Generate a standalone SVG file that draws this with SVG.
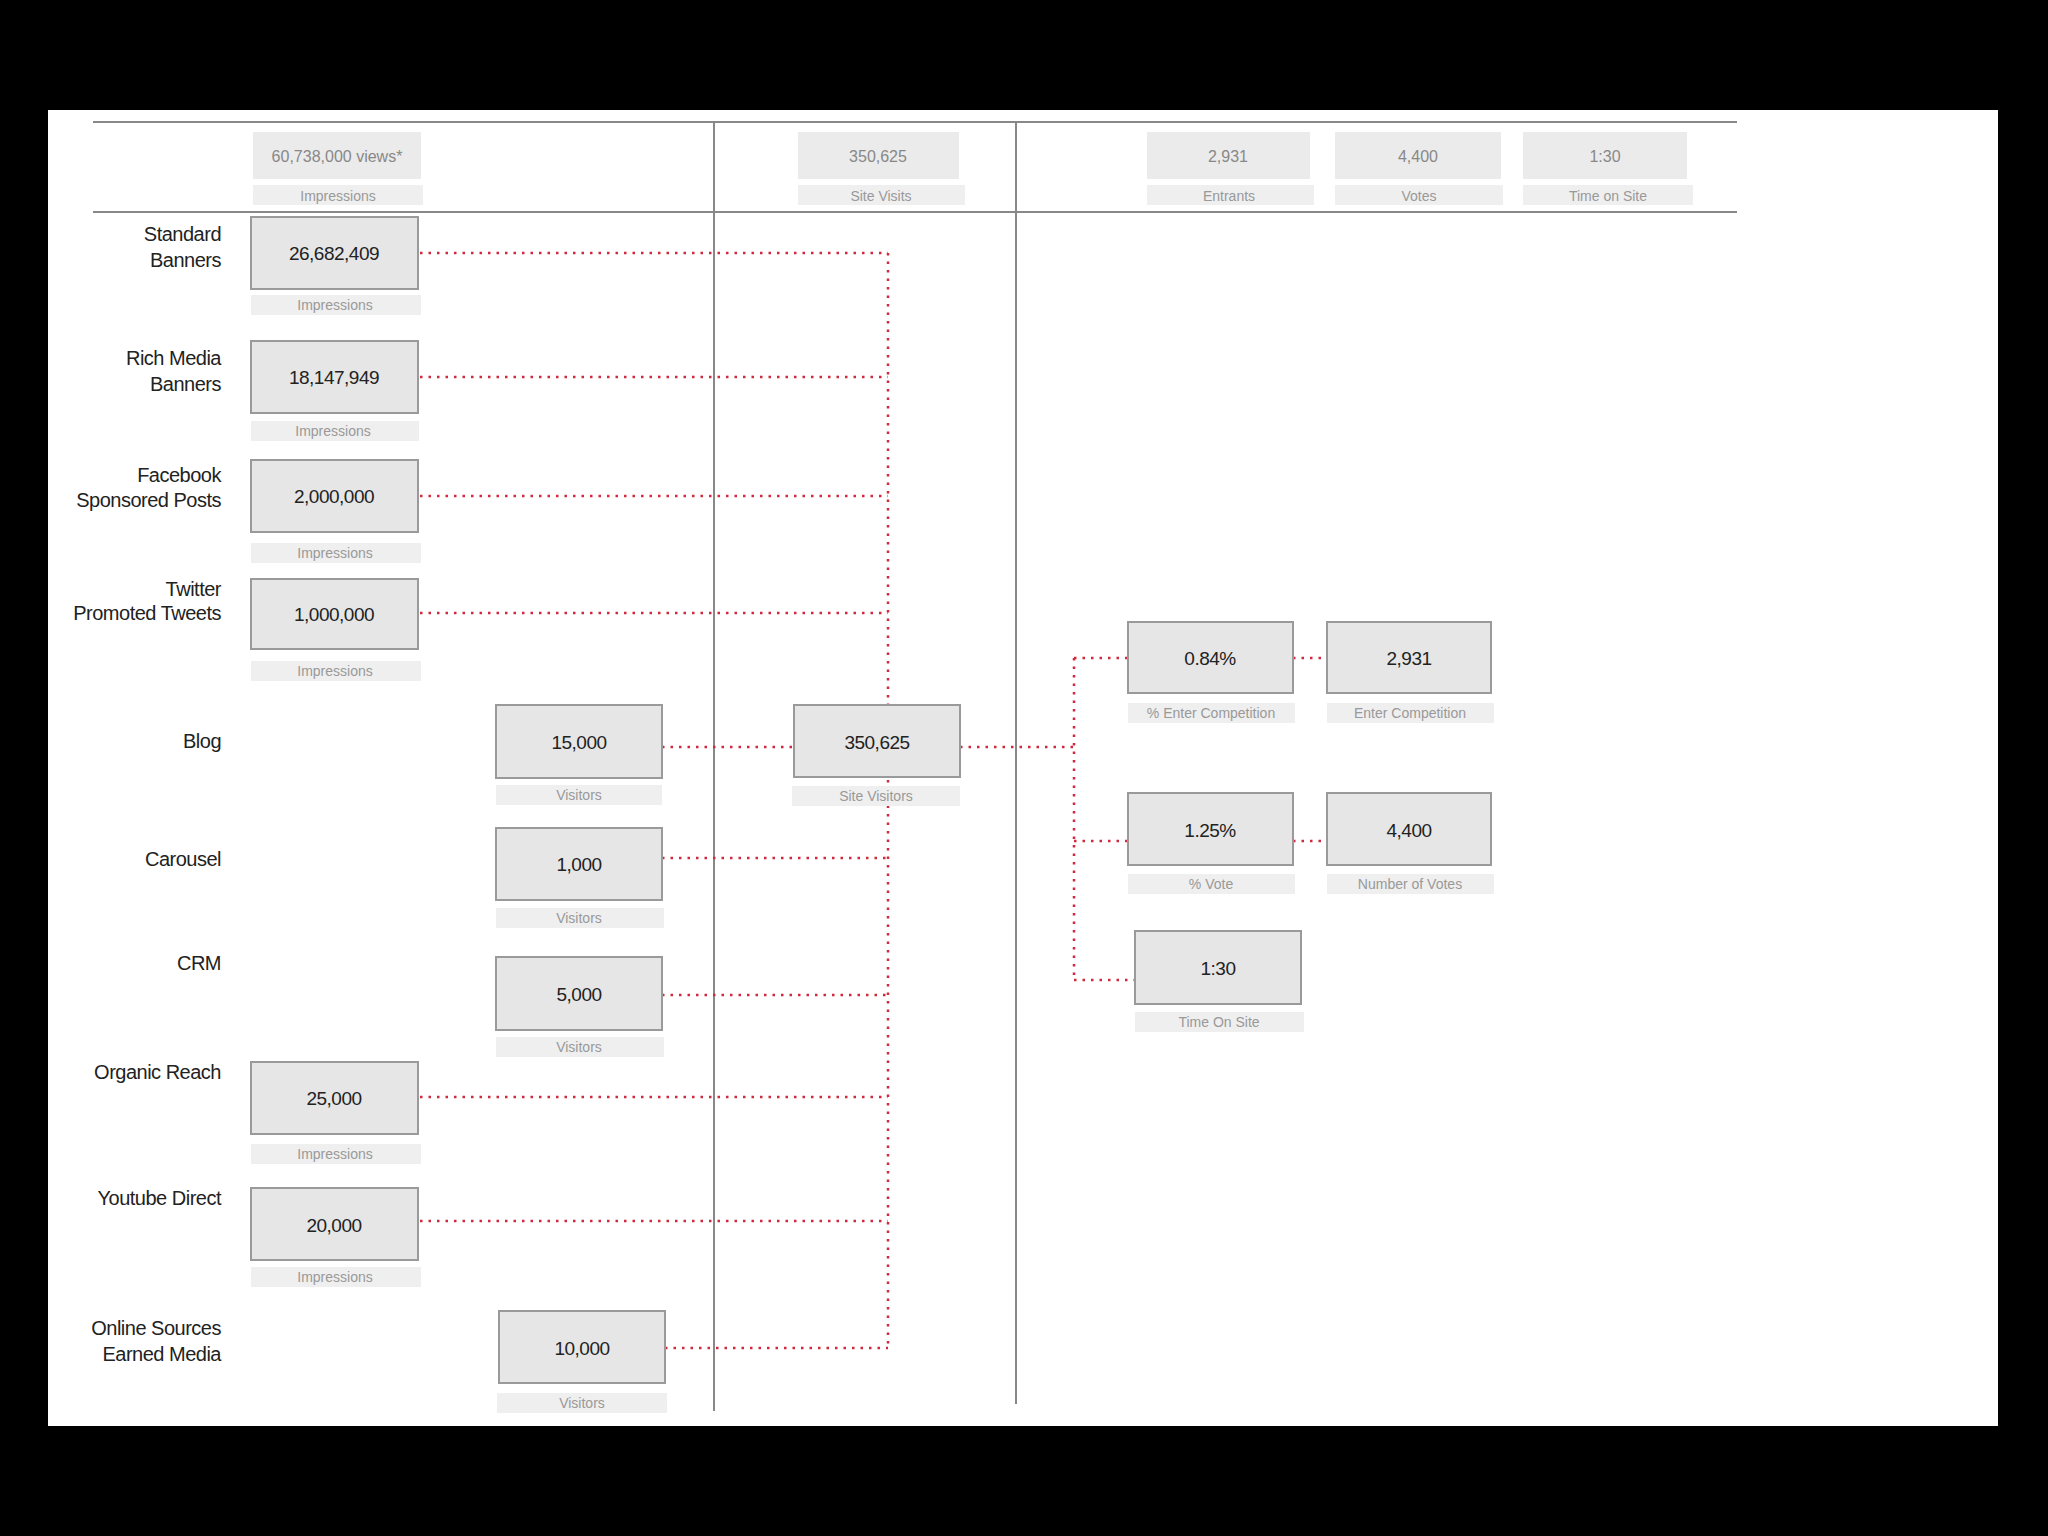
<svg xmlns="http://www.w3.org/2000/svg" width="2048" height="1536" viewBox="0 0 2048 1536">
<style>
.bx{fill:#e6e6e6;stroke:#9a9a9a;stroke-width:2}
.hb{fill:#ebebeb}
.lb{fill:#efefef}
.v{font-family:"Liberation Sans",Arial,sans-serif;font-size:19px;fill:#222;text-anchor:middle;letter-spacing:-0.5px}
.hv{font-family:"Liberation Sans",Arial,sans-serif;font-size:16px;fill:#888;text-anchor:middle}
.l{font-family:"Liberation Sans",Arial,sans-serif;font-size:14px;fill:#999;text-anchor:middle}
.n{font-family:"Liberation Sans",Arial,sans-serif;font-size:20px;fill:#222;text-anchor:end;letter-spacing:-0.5px}
.d{stroke:#d0283c;stroke-width:2.5;stroke-dasharray:2.5 6;fill:none}
.g{stroke:#888;stroke-width:2;fill:none}
</style>
<rect width="2048" height="1536" fill="#000"/>
<rect x="48" y="110" width="1950" height="1316" fill="#fff"/>
<g id="grid">
<line class="g" x1="93" y1="122" x2="1737" y2="122"/>
<line class="g" x1="93" y1="212" x2="1737" y2="212"/>
<line class="g" x1="714" y1="122" x2="714" y2="1411"/>
<line class="g" x1="1016" y1="122" x2="1016" y2="1404"/>
</g>
<g id="header">
<rect class="hb" x="253" y="132" width="168" height="47"/><text class="hv" x="337" y="162">60,738,000 views*</text>
<rect class="lb" x="253" y="185" width="170" height="20"/><text class="l" x="338" y="201">Impressions</text>
<rect class="hb" x="798" y="132" width="161" height="47"/><text class="hv" x="878" y="162">350,625</text>
<rect class="lb" x="798" y="185" width="167" height="20"/><text class="l" x="881" y="201">Site Visits</text>
<rect class="hb" x="1147" y="132" width="163" height="47"/><text class="hv" x="1228" y="162">2,931</text>
<rect class="lb" x="1147" y="185" width="167" height="20"/><text class="l" x="1229" y="201">Entrants</text>
<rect class="hb" x="1335" y="132" width="166" height="47"/><text class="hv" x="1418" y="162">4,400</text>
<rect class="lb" x="1335" y="185" width="168" height="20"/><text class="l" x="1419" y="201">Votes</text>
<rect class="hb" x="1523" y="132" width="164" height="47"/><text class="hv" x="1605" y="162">1:30</text>
<rect class="lb" x="1523" y="185" width="170" height="20"/><text class="l" x="1608" y="201">Time on Site</text>
</g>
<g id="connectors">
<path class="d" d="M420 253H888M420 377H888M420 496H888M420 613H888M662 747H794M662 858H888M662 995H888M420 1097H888M420 1221H888M665 1348H888M888 253V1348"/>
<path class="d" d="M960 747H1074M1074 658V980M1074 658H1128M1074 841H1128M1074 980H1135M1293 658H1327M1293 841H1327"/>
</g>
<g id="n-standard"><text class="n" x="221" y="241">Standard</text><text class="n" x="221" y="267">Banners</text>
<rect class="bx" x="251" y="217" width="167" height="72"/><text class="v" x="334" y="260">26,682,409</text>
<rect class="lb" x="251" y="295" width="170" height="20"/><text class="l" x="335" y="310">Impressions</text></g>
<g id="n-rich"><text class="n" x="221" y="365">Rich Media</text><text class="n" x="221" y="391">Banners</text>
<rect class="bx" x="251" y="341" width="167" height="72"/><text class="v" x="334" y="384">18,147,949</text>
<rect class="lb" x="251" y="421" width="168" height="20"/><text class="l" x="333" y="436">Impressions</text></g>
<g id="n-facebook"><text class="n" x="221" y="482">Facebook</text><text class="n" x="221" y="507">Sponsored Posts</text>
<rect class="bx" x="251" y="460" width="167" height="72"/><text class="v" x="334" y="503">2,000,000</text>
<rect class="lb" x="251" y="543" width="170" height="20"/><text class="l" x="335" y="558">Impressions</text></g>
<g id="n-twitter"><text class="n" x="221" y="596">Twitter</text><text class="n" x="221" y="620">Promoted Tweets</text>
<rect class="bx" x="251" y="579" width="167" height="70"/><text class="v" x="334" y="621">1,000,000</text>
<rect class="lb" x="251" y="661" width="170" height="20"/><text class="l" x="335" y="676">Impressions</text></g>
<g id="n-blog"><text class="n" x="221" y="748">Blog</text>
<rect class="bx" x="496" y="705" width="166" height="73"/><text class="v" x="579" y="749">15,000</text>
<rect class="lb" x="496" y="785" width="166" height="20"/><text class="l" x="579" y="800">Visitors</text></g>
<g id="n-carousel"><text class="n" x="221" y="866">Carousel</text>
<rect class="bx" x="496" y="828" width="166" height="72"/><text class="v" x="579" y="871">1,000</text>
<rect class="lb" x="496" y="908" width="168" height="20"/><text class="l" x="579" y="923">Visitors</text></g>
<g id="n-crm"><text class="n" x="221" y="970">CRM</text>
<rect class="bx" x="496" y="957" width="166" height="73"/><text class="v" x="579" y="1001">5,000</text>
<rect class="lb" x="496" y="1037" width="168" height="20"/><text class="l" x="579" y="1052">Visitors</text></g>
<g id="n-organic"><text class="n" x="221" y="1079">Organic Reach</text>
<rect class="bx" x="251" y="1062" width="167" height="72"/><text class="v" x="334" y="1105">25,000</text>
<rect class="lb" x="251" y="1144" width="170" height="20"/><text class="l" x="335" y="1159">Impressions</text></g>
<g id="n-youtube"><text class="n" x="221" y="1205">Youtube Direct</text>
<rect class="bx" x="251" y="1188" width="167" height="72"/><text class="v" x="334" y="1232">20,000</text>
<rect class="lb" x="251" y="1267" width="170" height="20"/><text class="l" x="335" y="1282">Impressions</text></g>
<g id="n-online"><text class="n" x="221" y="1335">Online Sources</text><text class="n" x="221" y="1361">Earned Media</text>
<rect class="bx" x="499" y="1311" width="166" height="72"/><text class="v" x="582" y="1355">10,000</text>
<rect class="lb" x="497" y="1393" width="170" height="20"/><text class="l" x="582" y="1408">Visitors</text></g>
<g id="n-site"><rect class="bx" x="794" y="705" width="166" height="72"/><text class="v" x="877" y="749">350,625</text>
<rect class="lb" x="792" y="786" width="168" height="20"/><text class="l" x="876" y="801">Site Visitors</text></g>
<g id="n-pct-enter"><rect class="bx" x="1128" y="622" width="165" height="71"/><text class="v" x="1210" y="665">0.84%</text>
<rect class="lb" x="1128" y="703" width="167" height="20"/><text class="l" x="1211" y="718">% Enter Competition</text></g>
<g id="n-enter"><rect class="bx" x="1327" y="622" width="164" height="71"/><text class="v" x="1409" y="665">2,931</text>
<rect class="lb" x="1327" y="703" width="167" height="20"/><text class="l" x="1410" y="718">Enter Competition</text></g>
<g id="n-pct-vote"><rect class="bx" x="1128" y="793" width="165" height="72"/><text class="v" x="1210" y="837">1.25%</text>
<rect class="lb" x="1128" y="874" width="167" height="20"/><text class="l" x="1211" y="889">% Vote</text></g>
<g id="n-votes"><rect class="bx" x="1327" y="793" width="164" height="72"/><text class="v" x="1409" y="837">4,400</text>
<rect class="lb" x="1327" y="874" width="167" height="20"/><text class="l" x="1410" y="889">Number of Votes</text></g>
<g id="n-time"><rect class="bx" x="1135" y="931" width="166" height="73"/><text class="v" x="1218" y="975">1:30</text>
<rect class="lb" x="1135" y="1012" width="169" height="20"/><text class="l" x="1219" y="1027">Time On Site</text></g>
</svg>
